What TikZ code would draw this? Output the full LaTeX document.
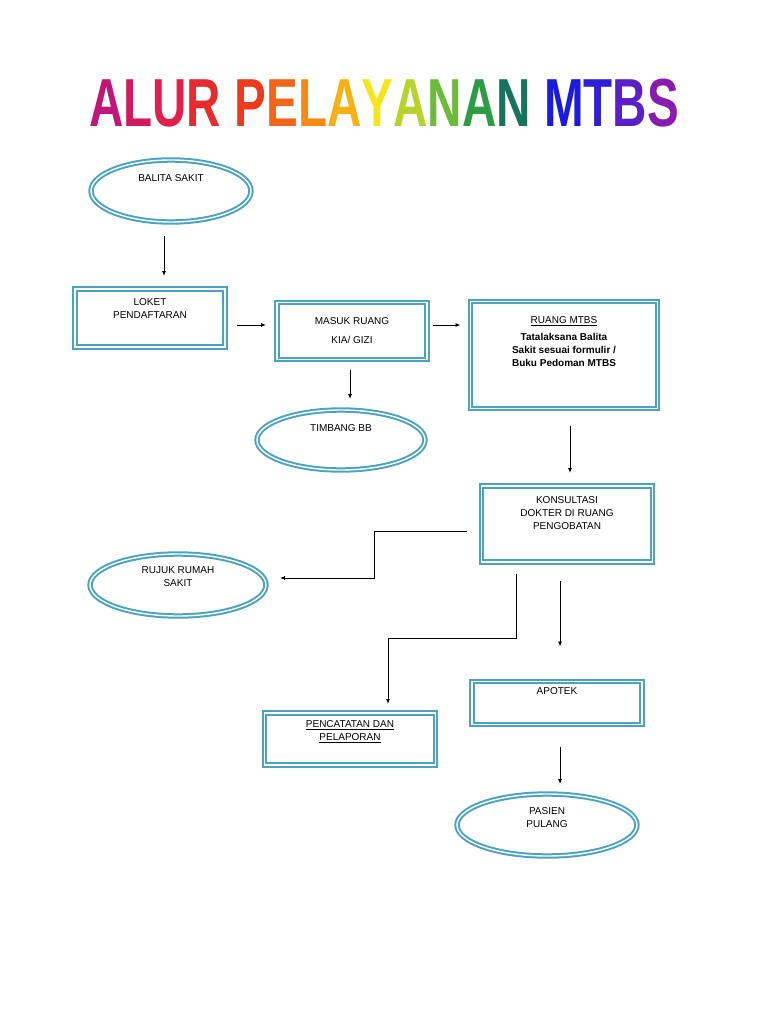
\documentclass[tikz,border=0pt]{standalone}
\usepackage{fontspec}
\setmainfont{Liberation Sans}
\usepackage{tikz}
\usetikzlibrary{positioning,shapes.geometric,arrows.meta}

\definecolor{frame}{HTML}{4BA3C3}
\newcommand{\tl}[2]{\textcolor[HTML]{#1}{#2}}
\tikzset{
  box/.style={draw=frame, double=white, double distance=1.4pt, line width=2pt,
    rectangle, align=center, font=\fontsize{10}{13}\selectfont},
  oval/.style={draw=frame, double=white, double distance=1.4pt, line width=2pt,
    ellipse, inner sep=0pt, align=center, font=\fontsize{10}{13}\selectfont},
  flow/.style={-{Latex[length=5pt,width=4pt]}, line width=0.9pt, black}
}

\begin{document}
\begin{tikzpicture}[x=1pt, y=-1pt]
  \useasboundingbox (0,0) rectangle (768,1024);
  \node (title) at (384,103) {\scalebox{0.70}[1]{\fontsize{68}{68}\selectfont\bfseries
    \tl{C0157A}{A}\tl{D41A5E}{L}\tl{E0204A}{U}\tl{E52B2B}{R} \tl{EE3B1E}{P}\tl{F2661A}{E}\tl{F58A17}{L}\tl{F7B015}{A}\tl{F5E51A}{Y}\tl{B8D42A}{A}\tl{6DBB3A}{N}\tl{2E9C45}{A}\tl{17745C}{N} \tl{1A1AE0}{M}\tl{2D1FD8}{T}\tl{5A1FC8}{B}\tl{8A1AB0}{S}}};

  \node[oval, minimum width=160pt, minimum height=62pt] (balita) at (171,191) {BALITA SAKIT\\[12pt]};
  \node[box, minimum width=150pt, minimum height=58pt] (loket) at (150,318) {LOKET\\PENDAFTARAN\\[6pt]};
  \node[box, minimum width=150pt, minimum height=57pt] (kia) at (352,331) {MASUK RUANG\\[6pt]KIA/ GIZI};
  \node[box, minimum width=187pt, minimum height=107pt] (mtbs) at (564,355)
    {\underline{RUANG MTBS}\\[4pt]\textbf{Tatalaksana Balita}\\\textbf{Sakit sesuai formulir /}\\\textbf{Buku Pedoman MTBS}\\[14pt]};
  \node[oval, minimum width=168pt, minimum height=60pt] (timbang) at (341,440) {TIMBANG BB\\[10pt]};
  \node[box, minimum width=171pt, minimum height=76pt] (konsul) at (567,524) {KONSULTASI\\DOKTER DI RUANG\\PENGOBATAN\\[8pt]};
  \node[oval, minimum width=176pt, minimum height=62pt] (rujuk) at (178,585) {RUJUK RUMAH\\SAKIT\\[4pt]};
  \node[box, minimum width=170pt, minimum height=43pt] (apotek) at (557,703) {APOTEK\\[10pt]};
  \node[box, minimum width=171pt, minimum height=52pt] (catat) at (350,739) {\underline{PENCATATAN DAN}\\\underline{PELAPORAN}\\[4pt]};
  \node[oval, minimum width=180pt, minimum height=62pt] (pulang) at (547,825) {PASIEN\\PULANG\\[2pt]};

  \draw[flow, shorten <=13pt, shorten >=12pt] (balita.south -| 164,0) -- (loket.north -| 164,0);
  \draw[flow, shorten <=11pt, shorten >=10pt] (loket.east |- 0,325) -- (kia.west |- 0,325);
  \draw[flow, shorten <=5pt, shorten >=9pt] (kia.east |- 0,325) -- (mtbs.west |- 0,325);
  \draw[flow, shorten <=9pt, shorten >=10pt] (kia.south -| 350,0) -- (timbang.north -| 350,0);
  \draw[flow, shorten <=16pt, shorten >=12pt] (mtbs.south -| 570,0) -- (konsul.north -| 570,0);
  \draw[flow, shorten <=14pt] (konsul.west |- 0,531) -- (374,531) -- (374,578) -- (280,578) coordinate (r1);
  \draw[flow] (516,574) coordinate (c1) -- (516,638) -- (388,638) -- (388,704) coordinate (c2);
  \draw[flow, shorten <=18pt, shorten >=34pt] (konsul.south -| 560,0) -- (apotek.north -| 560,0);
  \draw[flow, shorten <=21pt, shorten >=9pt] (apotek.south -| 560,0) -- (pulang.north -| 560,0);
\end{tikzpicture}
\end{document}
